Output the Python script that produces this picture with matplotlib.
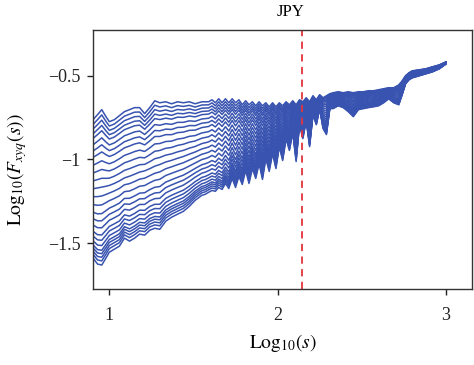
import matplotlib
matplotlib.use('Agg')
import matplotlib.pyplot as plt
import numpy as np

# log10(s) grid
log_s = [0.903, 0.93, 0.955, 0.98, 1.0, 1.03, 1.06, 1.09, 1.12, 1.15, 1.18, 1.21, 1.24, 1.27,
         1.30, 1.335, 1.37, 1.405, 1.44, 1.475, 1.51, 1.55,
         1.57, 1.59, 1.61, 1.63, 1.65, 1.67, 1.69, 1.71, 1.73, 1.75, 1.77, 1.79, 1.81, 1.83,
         1.85, 1.87, 1.89, 1.91, 1.93, 1.95, 1.97, 1.99, 2.01, 2.03, 2.05, 2.07, 2.09, 2.11,
         2.13, 2.15, 2.17, 2.19, 2.21, 2.23, 2.25, 2.27, 2.29, 2.31,
         2.33, 2.36, 2.39, 2.42, 2.45, 2.48, 2.51, 2.54, 2.57, 2.60, 2.63, 2.66, 2.69, 2.72,
         2.74, 2.76, 2.78, 2.80, 2.84, 2.88, 2.92, 2.96, 3.00]

# uppermost curve (most negative q)
top_curve = [-0.762, -0.732, -0.702, -0.744, -0.774, -0.762, -0.738, -0.714, -0.702, -0.690,
             -0.690, -0.726, -0.690, -0.649, -0.661, -0.655, -0.667, -0.655, -0.661, -0.655,
             -0.667, -0.655,
             -0.655, -0.655, -0.643, -0.661, -0.637, -0.661, -0.637, -0.661, -0.637, -0.661,
             -0.643, -0.673, -0.649, -0.673, -0.655, -0.679, -0.655, -0.679, -0.661, -0.685,
             -0.661, -0.685, -0.661, -0.679, -0.655, -0.673, -0.649, -0.673, -0.643, -0.655,
             -0.631, -0.655, -0.619, -0.643, -0.613, -0.631, -0.619, -0.607,
             -0.601, -0.595, -0.601, -0.595, -0.601, -0.595, -0.595, -0.589, -0.589, -0.583,
             -0.577, -0.571, -0.571, -0.554, -0.530, -0.500, -0.482, -0.470, -0.464, -0.458,
             -0.446, -0.435, -0.417]

# smooth middle curve (q near 0), small scales only
middle_curve_small_s = [-1.175, -1.170, -1.165, -1.160, -1.155, -1.143, -1.128, -1.110,
                        -1.100, -1.088, -1.075, -1.068, -1.055, -1.040, -1.030, -1.015,
                        -1.005, -0.993, -0.982, -0.968, -0.955, -0.937]

# lowest curve (most positive q)
bottom_curve = [-1.589, -1.625, -1.631, -1.589, -1.554, -1.536, -1.518, -1.470, -1.488, -1.470,
                -1.446, -1.452, -1.423, -1.411, -1.417, -1.369, -1.345, -1.327, -1.310, -1.280,
                -1.244, -1.214,
                -1.208, -1.196, -1.185, -1.190, -1.167, -1.179, -1.143, -1.173, -1.113, -1.167,
                -1.101, -1.149, -1.065, -1.143, -1.054, -1.113, -1.024, -1.119, -0.994, -1.071,
                -0.964, -1.054, -0.923, -1.006, -0.875, -0.946, -0.839, -1.012, -0.792, -0.875,
                -0.768, -0.923, -0.732, -0.792, -0.696, -0.815, -0.851, -0.696,
                -0.696, -0.679, -0.690, -0.714, -0.744, -0.702, -0.696, -0.690, -0.685, -0.679,
                -0.661, -0.637, -0.661, -0.673, -0.613, -0.548, -0.524, -0.512, -0.500, -0.488,
                -0.476, -0.458, -0.429]

# relative position of each q-curve between the upper and lower curve
q_fractions = [0.0, 0.034, 0.068, 0.102, 0.136, 0.182, 0.227, 0.273, 0.330, 0.386, 0.443,
               0.500, 0.557, 0.614, 0.670, 0.716, 0.761, 0.807, 0.841, 0.875, 0.905, 0.927,
               0.950, 0.973, 1.0]

crossover = 2.143
x_ticks = [1, 2, 3]
x_ticklabels = ['1', '2', '3']
y_ticks = [-1.5, -1.0, -0.5]
y_ticklabels = ['\u22121.5', '\u22121', '\u22120.5']

plt.rcParams['font.family'] = ['Liberation Serif', 'DejaVu Serif']
plt.rcParams['mathtext.fontset'] = 'stix'

W, H = 474, 365
fig = plt.figure(figsize=(W / 100, H / 100), dpi=100)
ax = fig.add_axes([93 / W, 1 - 289 / H, (472 - 93) / W, (289 - 30) / H])

x = np.array(log_s)
T = np.array(top_curve)
B = np.array(bottom_curve)
M = (T + B) / 2
M[:len(middle_curve_small_s)] = middle_curve_small_s
for f in q_fractions:
    if f <= 0.5:
        y = T + (f / 0.5) * (M - T)
    else:
        y = M + ((f - 0.5) / 0.5) * (B - M)
    ax.plot(x, y, color='#3853b0', lw=1.1)

ax.axvline(crossover, color='#e3343c', ls=(0, (4, 3)), lw=1.3)

ax.set_xlim(0.903, 3.155)
ax.set_ylim(-1.774, -0.226)
ax.set_xticks(x_ticks)
ax.set_xticklabels(x_ticklabels)
ax.set_yticks(y_ticks)
ax.set_yticklabels(y_ticklabels)
ax.tick_params(axis='both', direction='out', length=4, width=1, colors='#222222', labelsize=13)
ax.tick_params(axis='x', pad=9)
ax.tick_params(axis='y', pad=5)
for sp in ax.spines.values():
    sp.set_color('#333333')
    sp.set_linewidth(1.0)

ax.set_xlabel(r'$\mathrm{Log}_{10}(s)$', fontsize=14)
ax.xaxis.set_label_coords(0.501, -0.165)
ax.set_ylabel(r'$\mathrm{Log}_{10}(F_{xyq}(s))$', fontsize=14)
ax.yaxis.set_label_coords(-0.17, 0.46)

fig.text(291 / W, 1 - 12 / H, 'JPY', ha='center', va='center', fontsize=12)

fig.savefig('out.png', dpi=100)
